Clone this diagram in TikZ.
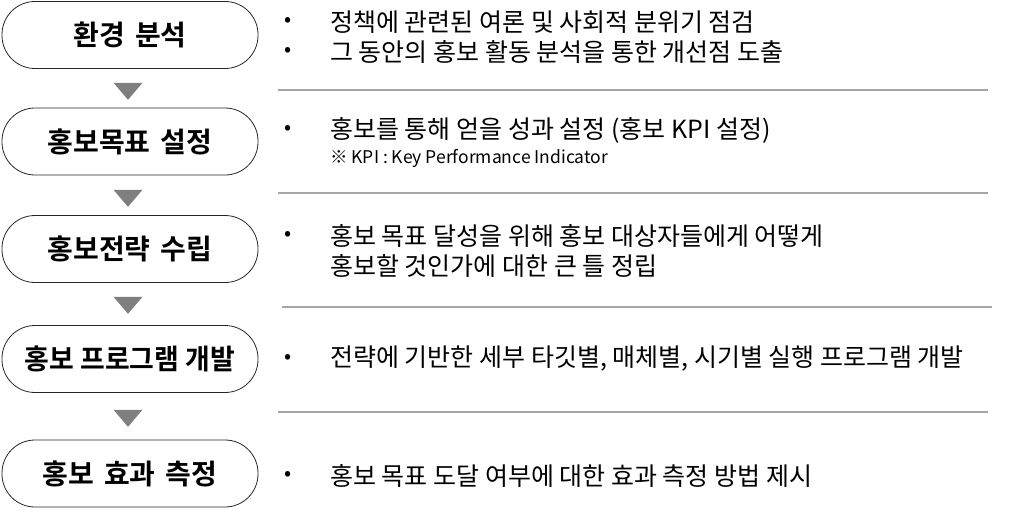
\documentclass[tikz,border=0pt]{standalone}
\usepackage{fontspec}
\usetikzlibrary{shapes.geometric}
\setmainfont{Noto Sans CJK KR}
\newfontfamily\labfont[WordSpace=1.6]{Noto Sans CJK KR Bold}
\newfontfamily\labfontn[FakeStretch=0.96]{Noto Sans CJK KR Bold}
\newfontfamily\txtfont{Noto Sans CJK KR}
\definecolor{tri}{HTML}{7F7F7F}
\definecolor{sep}{HTML}{A6A6A6}
\tikzset{
  pill/.style={draw=black!85, line width=0.8pt, rounded corners=33pt, minimum width=256pt, minimum height=67pt, inner sep=0pt, font=\labfont\fontsize{28}{32}\selectfont},
  downtri/.style={fill=tri, draw=none, isosceles triangle, isosceles triangle apex angle=80, shape border rotate=-90, minimum width=29pt, minimum height=17pt, inner sep=0pt, isosceles triangle stretches},
  sepline/.style={draw=sep, line width=1.1pt},
  desc/.style={anchor=west, inner sep=0pt, font=\txtfont\fontsize{25}{28}\selectfont},
  note/.style={anchor=west, inner sep=0pt, font=\txtfont\fontsize{17.5}{20}\selectfont},
  bul/.style={anchor=center, inner sep=0pt, font=\txtfont\fontsize{21}{24}\selectfont}
}
\begin{document}
\begin{tikzpicture}[x=1pt,y=-1pt]
\useasboundingbox (0,0) rectangle (1030,511);
% pills
\node[pill] (p1) at (130,35) {환경 분석};
\node[pill] (p2) at (130,141.5) {홍보목표 설정};
\node[pill] (p3) at (130,249) {홍보전략 수립};
\node[pill, font=\labfontn\fontsize{28}{32}\selectfont] (p4) at (130,359) {홍보 프로그램 개발};
\node[pill] (p5) at (130,473.5) {홍보 효과 측정};
% arrows
\node[downtri] (t1) at (128,89.5) {};
\node[downtri] (t2) at (128,196.5) {};
\node[downtri] (t3) at (128,303.5) {};
\node[downtri] (t4) at (128,416.5) {};
% separators
\coordinate (s1a) at (278,90);  \coordinate (s1b) at (988,90);
\coordinate (s2a) at (278,193); \coordinate (s2b) at (988,193);
\coordinate (s3a) at (282,307); \coordinate (s3b) at (992,307);
\coordinate (s4a) at (278,412); \coordinate (s4b) at (988,412);
\draw[sepline] (s1a) -- (s1b);
\draw[sepline] (s2a) -- (s2b);
\draw[sepline] (s3a) -- (s3b);
\draw[sepline] (s4a) -- (s4b);
% descriptions
\node[bul] (b1a) at (288,22) {•};
\node[desc] (d1a) at (330,22) {정책에 관련된 여론 및 사회적 분위기 점검};
\node[bul] (b1b) at (288,52) {•};
\node[desc] (d1b) at (330,52) {그 동안의 홍보 활동 분석을 통한 개선점 도출};
\node[bul] (b2) at (288,130) {•};
\node[desc] (d2) at (330,130) {홍보를 통해 얻을 성과 설정 (홍보 KPI 설정)};
\node[note] (n2) at (330,158) {※ KPI : Key Performance Indicator};
\node[bul] (b3) at (288,236) {•};
\node[desc] (d3a) at (330,236) {홍보 목표 달성을 위해 홍보 대상자들에게 어떻게};
\node[desc] (d3b) at (330,266) {홍보할 것인가에 대한 큰 틀 정립};
\node[bul] (b4) at (288,359) {•};
\node[desc] (d4) at (330,359) {전략에 기반한 세부 타깃별, 매체별, 시기별 실행 프로그램 개발};
\node[bul] (b5) at (288,476) {•};
\node[desc] (d5) at (330,476) {홍보 목표 도달 여부에 대한 효과 측정 방법 제시};
\end{tikzpicture}
\end{document}
